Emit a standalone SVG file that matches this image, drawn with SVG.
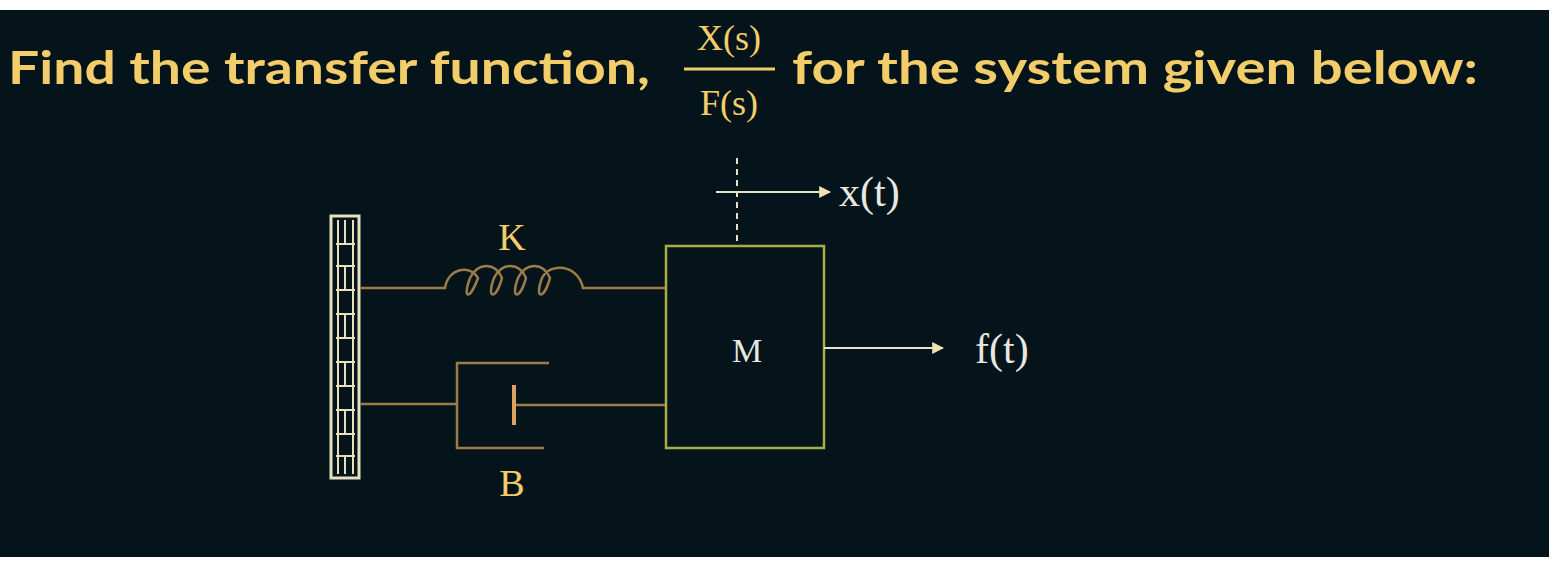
<svg xmlns="http://www.w3.org/2000/svg" width="1558" height="573" viewBox="0 0 1558 573">
<style>
.title{font-family:Lato,"Open Sans",sans-serif;font-size:46px;font-weight:bold;fill:#f3cd6a}
.serif{font-family:"Liberation Serif","DejaVu Serif",serif}
.lab{font-size:38px;fill:#f3cd6a}
.wl{font-size:42px;fill:#e8e8e0}
.ln{stroke:#9c7c48;stroke-width:2.5;fill:none}
</style>
<defs>
<marker id="ah" viewBox="0 0 10 10" refX="9" refY="5" markerWidth="12" markerHeight="12" markerUnits="userSpaceOnUse" orient="auto"><path d="M0,0L10,5L0,10z" fill="#f0e2b0"/></marker>
</defs>
<rect width="1558" height="573" fill="#ffffff"/>
<rect x="0" y="10" width="1549" height="547" fill="#04141a"/>
<text class="title" x="8" y="84" textLength="642" lengthAdjust="spacingAndGlyphs">Find the transfer function,</text>
<text class="serif" x="729" y="50" text-anchor="middle" font-size="36" fill="#f3cd6a">X(s)</text>
<line x1="684" y1="69" x2="775" y2="69" stroke="#f3cd6a" stroke-width="3"/>
<text class="serif" x="729" y="115" text-anchor="middle" font-size="36" fill="#f3cd6a">F(s)</text>
<text class="title" x="792" y="84" textLength="686" lengthAdjust="spacingAndGlyphs">for the system given below:</text>
<g id="wall" stroke="#e6dfc0" stroke-width="2" fill="none">
<rect x="331" y="216" width="28" height="262" stroke-width="3"/>
<path d="M336,244H355M336,266H355M336,290H355M336,314H355M336,338H355M336,362H355M336,386H355M336,410H355M336,434H355M336,456H355M338,220V474M353,220V474M345,220V244M345,266V290M345,314V338M345,362V386M345,410V434M345,456V474"/>
</g>
<g id="spring">
<path class="ln" d="M360,288H445C448,268 470,264 478,278C470,300 462,300 470,278C478,262 495,262 502,278C496,300 486,300 494,278C502,262 519,262 526,278C520,300 510,300 518,278C526,262 543,262 550,278C544,300 534,300 542,278C550,262 578,264 583,288H666"/>
<text class="serif lab" x="512" y="250" text-anchor="middle">K</text>
</g>
<g id="damper">
<path class="ln" d="M360,404H457M549,363H457V448H544M514,405H666"/>
<line x1="514" y1="385" x2="514" y2="425" stroke="#e0a060" stroke-width="4"/>
<text class="serif lab" x="512" y="496" text-anchor="middle">B</text>
</g>
<g id="mass">
<rect x="666" y="246" width="158" height="202" fill="none" stroke="#a8ad45" stroke-width="2.5"/>
<text class="serif" x="747" y="362" text-anchor="middle" font-size="34" fill="#e8e8e0">M</text>
</g>
<g id="connectors" stroke="#e8e2c8" stroke-width="2" fill="none">
<line x1="737" y1="158" x2="737" y2="243" stroke-dasharray="6,5"/>
<line x1="716" y1="192" x2="830" y2="192" marker-end="url(#ah)"/>
<line x1="824" y1="348" x2="943" y2="348" marker-end="url(#ah)"/>
</g>
<text class="serif wl" x="839" y="206">x(t)</text>
<text class="serif wl" x="975" y="363">f(t)</text>
</svg>
